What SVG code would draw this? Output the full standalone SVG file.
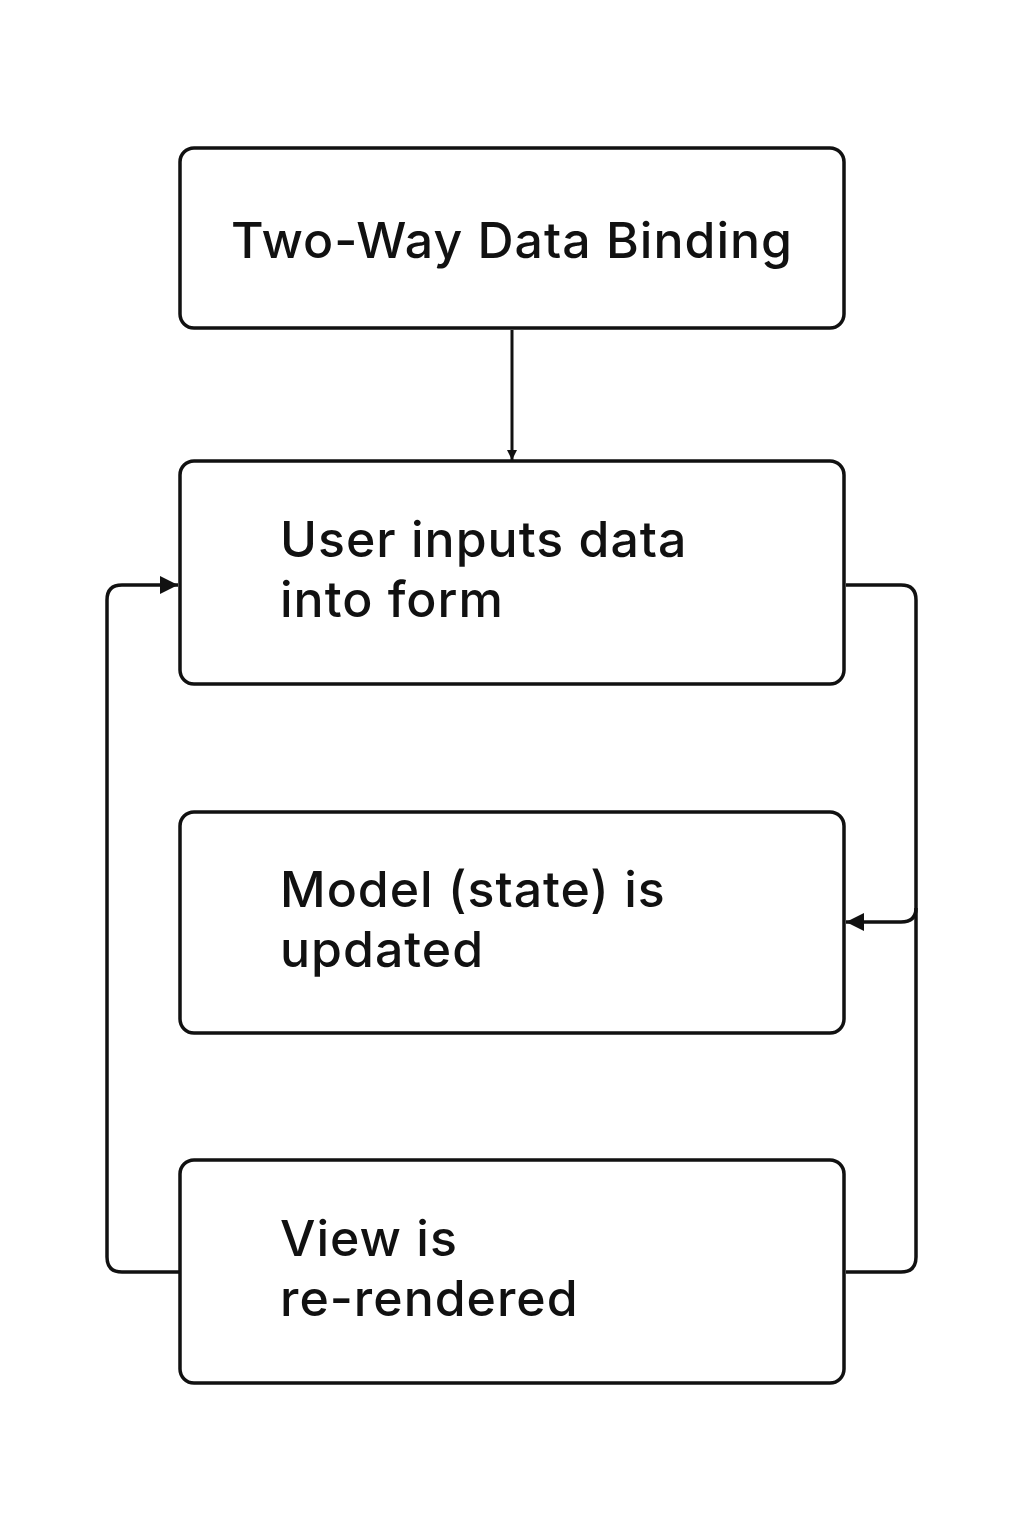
<svg xmlns="http://www.w3.org/2000/svg" width="1024" height="1536" viewBox="0 0 1024 1536">
<style>
.b{fill:#fff;stroke:#111;stroke-width:3.5}
.c{fill:none;stroke:#111;stroke-width:3.5;stroke-linejoin:round}
.t{font-family:Inter,"Liberation Sans",sans-serif;font-size:50px;font-weight:500;letter-spacing:1px;fill:#111}
</style>
<defs>
<marker id="a" viewBox="0 0 10 10" refX="10" refY="5" markerWidth="10" markerHeight="10" orient="auto" markerUnits="userSpaceOnUse"><path d="M0,0L10,5L0,10z" fill="#111"/></marker>
<marker id="a2" viewBox="0 0 10 10" refX="10" refY="5" markerWidth="18" markerHeight="18" orient="auto" markerUnits="userSpaceOnUse"><path d="M0,0L10,5L0,10z" fill="#111"/></marker>
</defs>
<rect width="1024" height="1536" fill="#fff"/>
<g id="connectors">
<path class="c" d="M512,330V460" marker-end="url(#a)" style="stroke-width:3"/>
<path class="c" d="M180,1272H122Q107,1272 107,1257V600Q107,585 122,585H178" marker-end="url(#a2)"/>
<path class="c" d="M846,585H901Q916,585 916,600V1257Q916,1272 901,1272H846"/>
<path class="c" d="M916,908Q916,922 901,922H846" marker-end="url(#a2)"/>
</g>
<g id="n1"><rect class="b" x="180" y="148" width="664" height="180" rx="14"/><text class="t" x="512" y="258" text-anchor="middle">Two-Way Data Binding</text></g>
<g id="n2"><rect class="b" x="180" y="461" width="664" height="223" rx="14"/><text class="t" x="280" y="557">User inputs data</text><text class="t" x="280" y="617">into form</text></g>
<g id="n3"><rect class="b" x="180" y="812" width="664" height="221" rx="14"/><text class="t" x="280" y="907">Model (state) is</text><text class="t" x="280" y="967">updated</text></g>
<g id="n4"><rect class="b" x="180" y="1160" width="664" height="223" rx="14"/><text class="t" x="280" y="1256">View is</text><text class="t" x="280" y="1316">re-rendered</text></g>
</svg>
